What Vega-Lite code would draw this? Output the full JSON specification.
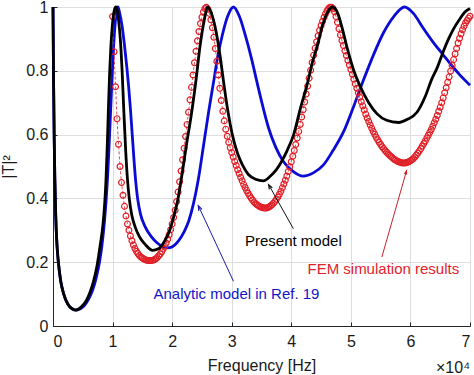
{
  "$schema": "https://vega.github.io/schema/vega-lite/v6.json",
  "autosize": "none",
  "width": 417,
  "height": 319,
  "padding": {"left": 53, "top": 7, "right": 4, "bottom": 49},
  "background": "white",
  "config": {
    "view": {"stroke": null},
    "font": "Liberation Sans",
    "axis": {
      "labelFont": "Liberation Sans", "labelFontSize": 16, "labelColor": "#1a1a1a",
      "titleFont": "Liberation Sans", "titleFontSize": 16, "titleFontWeight": "normal", "titleColor": "#1a1a1a",
      "domainColor": "#262626", "domainWidth": 1, "tickColor": "#262626",
      "gridColor": "#dedede", "gridWidth": 1
    }
  },
  "datasets": {
    "fem": [
      {"f":1.000,"T2":0.97},{"f":1.025,"T2":0.86},{"f":1.050,"T2":0.75},{"f":1.075,"T2":0.65},{"f":1.100,"T2":0.57},
      {"f":1.125,"T2":0.5},{"f":1.150,"T2":0.45},{"f":1.175,"T2":0.41},{"f":1.200,"T2":0.375},{"f":1.225,"T2":0.345},
      {"f":1.250,"T2":0.32},{"f":1.275,"T2":0.3},{"f":1.300,"T2":0.282},{"f":1.325,"T2":0.267},{"f":1.350,"T2":0.254},
      {"f":1.375,"T2":0.243},{"f":1.400,"T2":0.234},{"f":1.425,"T2":0.227},{"f":1.450,"T2":0.221},{"f":1.475,"T2":0.216},
      {"f":1.500,"T2":0.213},{"f":1.525,"T2":0.21},{"f":1.550,"T2":0.208},{"f":1.575,"T2":0.206},{"f":1.600,"T2":0.205},
      {"f":1.625,"T2":0.205},{"f":1.650,"T2":0.205},{"f":1.675,"T2":0.206},{"f":1.700,"T2":0.208},{"f":1.725,"T2":0.211},
      {"f":1.750,"T2":0.215},{"f":1.775,"T2":0.22},{"f":1.800,"T2":0.226},{"f":1.825,"T2":0.233},{"f":1.850,"T2":0.241},
      {"f":1.875,"T2":0.25},{"f":1.900,"T2":0.26},{"f":1.925,"T2":0.272},{"f":1.950,"T2":0.286},{"f":1.975,"T2":0.302},
      {"f":2.000,"T2":0.32},{"f":2.025,"T2":0.34},{"f":2.050,"T2":0.363},{"f":2.075,"T2":0.39},{"f":2.100,"T2":0.42},
      {"f":2.125,"T2":0.452},{"f":2.150,"T2":0.486},{"f":2.175,"T2":0.521},{"f":2.200,"T2":0.557},{"f":2.225,"T2":0.594},
      {"f":2.250,"T2":0.632},{"f":2.275,"T2":0.67},{"f":2.300,"T2":0.709},{"f":2.325,"T2":0.748},{"f":2.350,"T2":0.787},
      {"f":2.375,"T2":0.825},{"f":2.400,"T2":0.861},{"f":2.425,"T2":0.894},{"f":2.450,"T2":0.923},{"f":2.475,"T2":0.948},
      {"f":2.500,"T2":0.968},{"f":2.525,"T2":0.984},{"f":2.550,"T2":0.995},{"f":2.575,"T2":0.999},{"f":2.600,"T2":0.993},
      {"f":2.625,"T2":0.98},{"f":2.650,"T2":0.96},{"f":2.675,"T2":0.935},{"f":2.700,"T2":0.905},{"f":2.725,"T2":0.87},
      {"f":2.750,"T2":0.83},{"f":2.775,"T2":0.787},{"f":2.800,"T2":0.745},{"f":2.825,"T2":0.707},{"f":2.850,"T2":0.673},
      {"f":2.875,"T2":0.643},{"f":2.900,"T2":0.617},{"f":2.925,"T2":0.595},{"f":2.950,"T2":0.576},{"f":2.975,"T2":0.559},
      {"f":3.000,"T2":0.544},{"f":3.025,"T2":0.53},{"f":3.050,"T2":0.516},{"f":3.075,"T2":0.503},{"f":3.100,"T2":0.49},
      {"f":3.125,"T2":0.478},{"f":3.150,"T2":0.466},{"f":3.175,"T2":0.455},{"f":3.200,"T2":0.444},{"f":3.225,"T2":0.434},
      {"f":3.250,"T2":0.425},{"f":3.275,"T2":0.416},{"f":3.300,"T2":0.408},{"f":3.325,"T2":0.401},{"f":3.350,"T2":0.395},
      {"f":3.375,"T2":0.389},{"f":3.400,"T2":0.384},{"f":3.425,"T2":0.38},{"f":3.450,"T2":0.377},{"f":3.475,"T2":0.374},
      {"f":3.500,"T2":0.372},{"f":3.525,"T2":0.371},{"f":3.550,"T2":0.37},{"f":3.575,"T2":0.37},{"f":3.600,"T2":0.371},
      {"f":3.625,"T2":0.373},{"f":3.650,"T2":0.376},{"f":3.675,"T2":0.38},{"f":3.700,"T2":0.385},{"f":3.725,"T2":0.39},
      {"f":3.750,"T2":0.397},{"f":3.775,"T2":0.404},{"f":3.800,"T2":0.413},{"f":3.825,"T2":0.422},{"f":3.850,"T2":0.433},
      {"f":3.875,"T2":0.445},{"f":3.900,"T2":0.457},{"f":3.925,"T2":0.47},{"f":3.950,"T2":0.484},{"f":3.975,"T2":0.499},
      {"f":4.000,"T2":0.515},{"f":4.025,"T2":0.532},{"f":4.050,"T2":0.55},{"f":4.075,"T2":0.569},{"f":4.100,"T2":0.589},
      {"f":4.125,"T2":0.61},{"f":4.150,"T2":0.632},{"f":4.175,"T2":0.655},{"f":4.200,"T2":0.678},{"f":4.225,"T2":0.702},
      {"f":4.250,"T2":0.727},{"f":4.275,"T2":0.752},{"f":4.300,"T2":0.777},{"f":4.325,"T2":0.802},{"f":4.350,"T2":0.826},
      {"f":4.375,"T2":0.849},{"f":4.400,"T2":0.871},{"f":4.425,"T2":0.891},{"f":4.450,"T2":0.91},{"f":4.475,"T2":0.927},
      {"f":4.500,"T2":0.942},{"f":4.525,"T2":0.955},{"f":4.550,"T2":0.968},{"f":4.575,"T2":0.979},{"f":4.600,"T2":0.988},
      {"f":4.625,"T2":0.995},{"f":4.650,"T2":0.999},{"f":4.675,"T2":0.999},{"f":4.700,"T2":0.995},{"f":4.725,"T2":0.985},
      {"f":4.750,"T2":0.97},{"f":4.775,"T2":0.952},{"f":4.800,"T2":0.932},{"f":4.825,"T2":0.912},{"f":4.850,"T2":0.895},
      {"f":4.875,"T2":0.879},{"f":4.900,"T2":0.863},{"f":4.925,"T2":0.848},{"f":4.950,"T2":0.833},{"f":4.975,"T2":0.818},
      {"f":5.000,"T2":0.804},{"f":5.025,"T2":0.789},{"f":5.050,"T2":0.774},{"f":5.075,"T2":0.759},{"f":5.100,"T2":0.745},
      {"f":5.125,"T2":0.731},{"f":5.150,"T2":0.717},{"f":5.175,"T2":0.703},{"f":5.200,"T2":0.69},{"f":5.225,"T2":0.677},
      {"f":5.250,"T2":0.664},{"f":5.275,"T2":0.652},{"f":5.300,"T2":0.641},{"f":5.325,"T2":0.63},{"f":5.350,"T2":0.62},
      {"f":5.375,"T2":0.61},{"f":5.400,"T2":0.601},{"f":5.425,"T2":0.592},{"f":5.450,"T2":0.584},{"f":5.475,"T2":0.576},
      {"f":5.500,"T2":0.569},{"f":5.525,"T2":0.562},{"f":5.550,"T2":0.556},{"f":5.575,"T2":0.55},{"f":5.600,"T2":0.545},
      {"f":5.625,"T2":0.54},{"f":5.650,"T2":0.535},{"f":5.675,"T2":0.531},{"f":5.700,"T2":0.527},{"f":5.725,"T2":0.523},
      {"f":5.750,"T2":0.52},{"f":5.775,"T2":0.517},{"f":5.800,"T2":0.515},{"f":5.825,"T2":0.513},{"f":5.850,"T2":0.512},
      {"f":5.875,"T2":0.511},{"f":5.900,"T2":0.511},{"f":5.925,"T2":0.512},{"f":5.950,"T2":0.513},{"f":5.975,"T2":0.515},
      {"f":6.000,"T2":0.518},{"f":6.025,"T2":0.521},{"f":6.050,"T2":0.525},{"f":6.075,"T2":0.53},{"f":6.100,"T2":0.536},
      {"f":6.125,"T2":0.542},{"f":6.150,"T2":0.549},{"f":6.175,"T2":0.556},{"f":6.200,"T2":0.564},{"f":6.225,"T2":0.572},
      {"f":6.250,"T2":0.58},{"f":6.275,"T2":0.589},{"f":6.300,"T2":0.598},{"f":6.325,"T2":0.607},{"f":6.350,"T2":0.616},
      {"f":6.375,"T2":0.626},{"f":6.400,"T2":0.637},{"f":6.425,"T2":0.648},{"f":6.450,"T2":0.66},{"f":6.475,"T2":0.673},
      {"f":6.500,"T2":0.686},{"f":6.525,"T2":0.7},{"f":6.550,"T2":0.715},{"f":6.575,"T2":0.731},{"f":6.600,"T2":0.747},
      {"f":6.625,"T2":0.764},{"f":6.650,"T2":0.781},{"f":6.675,"T2":0.799},{"f":6.700,"T2":0.817},{"f":6.725,"T2":0.835},
      {"f":6.750,"T2":0.853},{"f":6.775,"T2":0.87},{"f":6.800,"T2":0.887},{"f":6.825,"T2":0.902},{"f":6.850,"T2":0.916},
      {"f":6.875,"T2":0.929},{"f":6.900,"T2":0.94},{"f":6.925,"T2":0.95},{"f":6.950,"T2":0.958},{"f":6.975,"T2":0.965},
      {"f":7.000,"T2":0.971}
    ],
    "present": [
      {"f":0,"T2":1},{"f":0.005,"T2":0.88},{"f":0.01,"T2":0.76},{"f":0.02,"T2":0.59},{"f":0.03,"T2":0.47},
      {"f":0.045,"T2":0.35},{"f":0.065,"T2":0.26},{"f":0.09,"T2":0.2},{"f":0.13,"T2":0.14},{"f":0.18,"T2":0.1},
      {"f":0.25,"T2":0.068},{"f":0.32,"T2":0.054},{"f":0.38,"T2":0.05},{"f":0.44,"T2":0.054},{"f":0.5,"T2":0.065},
      {"f":0.56,"T2":0.08},{"f":0.62,"T2":0.105},{"f":0.68,"T2":0.14},{"f":0.74,"T2":0.19},{"f":0.79,"T2":0.25},
      {"f":0.84,"T2":0.32},{"f":0.87,"T2":0.39},{"f":0.89,"T2":0.46},{"f":0.91,"T2":0.56},{"f":0.93,"T2":0.68},
      {"f":0.95,"T2":0.79},{"f":0.97,"T2":0.87},{"f":1.0,"T2":0.95},{"f":1.03,"T2":0.99},{"f":1.055,"T2":1.0},
      {"f":1.08,"T2":0.99},{"f":1.1,"T2":0.96},{"f":1.13,"T2":0.9},{"f":1.16,"T2":0.8},{"f":1.19,"T2":0.67},
      {"f":1.22,"T2":0.55},{"f":1.25,"T2":0.46},{"f":1.28,"T2":0.4},{"f":1.32,"T2":0.35},{"f":1.38,"T2":0.31},
      {"f":1.45,"T2":0.28},{"f":1.55,"T2":0.255},{"f":1.67,"T2":0.237},{"f":1.77,"T2":0.242},{"f":1.87,"T2":0.265},
      {"f":1.96,"T2":0.3},{"f":2.03,"T2":0.345},{"f":2.1,"T2":0.4},{"f":2.17,"T2":0.48},{"f":2.25,"T2":0.58},
      {"f":2.32,"T2":0.66},{"f":2.4,"T2":0.77},{"f":2.47,"T2":0.88},{"f":2.53,"T2":0.95},{"f":2.6,"T2":1.0},
      {"f":2.65,"T2":0.985},{"f":2.7,"T2":0.955},{"f":2.76,"T2":0.9},{"f":2.81,"T2":0.84},{"f":2.86,"T2":0.77},
      {"f":2.93,"T2":0.68},{"f":3.01,"T2":0.6},{"f":3.1,"T2":0.54},{"f":3.18,"T2":0.505},{"f":3.28,"T2":0.475},
      {"f":3.4,"T2":0.46},{"f":3.53,"T2":0.455},{"f":3.65,"T2":0.47},{"f":3.75,"T2":0.49},{"f":3.82,"T2":0.51},
      {"f":3.93,"T2":0.55},{"f":4.04,"T2":0.6},{"f":4.15,"T2":0.68},{"f":4.27,"T2":0.76},{"f":4.36,"T2":0.83},
      {"f":4.44,"T2":0.88},{"f":4.52,"T2":0.94},{"f":4.6,"T2":0.98},{"f":4.69,"T2":1.0},{"f":4.78,"T2":0.98},
      {"f":4.86,"T2":0.93},{"f":4.94,"T2":0.87},{"f":5.05,"T2":0.8},{"f":5.16,"T2":0.75},{"f":5.3,"T2":0.7},
      {"f":5.44,"T2":0.665},{"f":5.6,"T2":0.645},{"f":5.8,"T2":0.638},{"f":5.95,"T2":0.648},{"f":6.11,"T2":0.67},
      {"f":6.25,"T2":0.72},{"f":6.35,"T2":0.77},{"f":6.45,"T2":0.81},{"f":6.55,"T2":0.86},{"f":6.64,"T2":0.9},
      {"f":6.72,"T2":0.93},{"f":6.82,"T2":0.96},{"f":6.92,"T2":0.985},{"f":7.0,"T2":0.995}
    ],
    "analytic": [
      {"f":0,"T2":1},{"f":0.005,"T2":0.88},{"f":0.01,"T2":0.76},{"f":0.02,"T2":0.59},{"f":0.03,"T2":0.47},
      {"f":0.045,"T2":0.35},{"f":0.065,"T2":0.26},{"f":0.09,"T2":0.2},{"f":0.13,"T2":0.14},{"f":0.18,"T2":0.1},
      {"f":0.25,"T2":0.068},{"f":0.32,"T2":0.054},{"f":0.39,"T2":0.05},{"f":0.46,"T2":0.054},{"f":0.53,"T2":0.065},
      {"f":0.6,"T2":0.085},{"f":0.67,"T2":0.115},{"f":0.73,"T2":0.155},{"f":0.78,"T2":0.2},{"f":0.82,"T2":0.25},
      {"f":0.86,"T2":0.32},{"f":0.89,"T2":0.39},{"f":0.92,"T2":0.48},{"f":0.95,"T2":0.6},{"f":0.98,"T2":0.73},
      {"f":1.01,"T2":0.85},{"f":1.04,"T2":0.94},{"f":1.065,"T2":0.985},{"f":1.09,"T2":1.0},{"f":1.12,"T2":0.98},
      {"f":1.16,"T2":0.94},{"f":1.2,"T2":0.88},{"f":1.24,"T2":0.81},{"f":1.27,"T2":0.75},{"f":1.3,"T2":0.68},
      {"f":1.33,"T2":0.6},{"f":1.36,"T2":0.52},{"f":1.39,"T2":0.45},{"f":1.42,"T2":0.4},{"f":1.47,"T2":0.35},
      {"f":1.55,"T2":0.31},{"f":1.65,"T2":0.28},{"f":1.75,"T2":0.26},{"f":1.85,"T2":0.248},{"f":1.92,"T2":0.245},
      {"f":2.0,"T2":0.248},{"f":2.1,"T2":0.265},{"f":2.2,"T2":0.295},{"f":2.28,"T2":0.33},{"f":2.36,"T2":0.385},
      {"f":2.44,"T2":0.46},{"f":2.53,"T2":0.57},{"f":2.62,"T2":0.68},{"f":2.7,"T2":0.77},{"f":2.77,"T2":0.85},
      {"f":2.84,"T2":0.91},{"f":2.93,"T2":0.97},{"f":3.03,"T2":1.0},{"f":3.13,"T2":0.97},{"f":3.23,"T2":0.91},
      {"f":3.33,"T2":0.84},{"f":3.43,"T2":0.76},{"f":3.52,"T2":0.69},{"f":3.62,"T2":0.62},{"f":3.74,"T2":0.56},
      {"f":3.87,"T2":0.515},{"f":4.03,"T2":0.485},{"f":4.2,"T2":0.47},{"f":4.37,"T2":0.48},{"f":4.54,"T2":0.505},
      {"f":4.7,"T2":0.55},{"f":4.88,"T2":0.61},{"f":5.05,"T2":0.69},{"f":5.21,"T2":0.77},{"f":5.38,"T2":0.85},
      {"f":5.55,"T2":0.92},{"f":5.72,"T2":0.97},{"f":5.9,"T2":1.0},{"f":6.05,"T2":0.98},{"f":6.21,"T2":0.935},
      {"f":6.38,"T2":0.89},{"f":6.55,"T2":0.85},{"f":6.7,"T2":0.815},{"f":6.84,"T2":0.785},{"f":7.0,"T2":0.755}
    ],
    "notes": [
      {"label": "Present model", "series": "present", "tx": 4.035, "ty": 0.265, "ax": 4.035, "ay": 0.305, "hx": 3.62, "hy": 0.443},
      {"label": "FEM simulation results", "series": "fem", "tx": 5.545, "ty": 0.18, "ax": 5.52, "ay": 0.216, "hx": 5.94, "hy": 0.49},
      {"label": "Analytic model in Ref. 19", "series": "analytic", "tx": 3.08, "ty": 0.1, "ax": 3.03, "ay": 0.14, "hx": 2.44, "hy": 0.377}
    ]
  },
  "layer": [
    {"data": {"name": "analytic"}, "mark": {"type": "line", "color": "#0b0bd6", "strokeWidth": 2.8, "interpolate": "monotone"},
     "encoding": {
       "x": {"field": "f", "type": "quantitative",
         "scale": {"domain": [0, 7], "nice": false},
         "axis": {"title": "Frequency [Hz]", "values": [0,1,2,3,4,5,6,7], "format": "d", "grid": true,
                  "tickSize": -4, "labelPadding": 11, "titlePadding": 8}},
       "y": {"field": "T2", "type": "quantitative",
         "scale": {"domain": [0, 1], "nice": false},
         "axis": {"title": "|T|²", "values": [0,0.2,0.4,0.6,0.8,1], "format": "~g", "grid": true,
                  "tickSize": -4, "labelPadding": 9, "titlePadding": 9}}
     }},
    {"data": {"name": "fem"}, "mark": {"type": "line", "color": "#e01e26", "strokeWidth": 0.8, "strokeDash": [3, 2]},
     "encoding": {"x": {"field": "f", "type": "quantitative"}, "y": {"field": "T2", "type": "quantitative"}}},
    {"data": {"name": "fem"}, "mark": {"type": "point", "shape": "circle", "filled": false, "color": "#e01e26", "size": 34, "strokeWidth": 1.2, "opacity": 1},
     "encoding": {"x": {"field": "f", "type": "quantitative"}, "y": {"field": "T2", "type": "quantitative"}}},
    {"data": {"name": "present"}, "mark": {"type": "line", "color": "#000000", "strokeWidth": 2.8, "interpolate": "monotone"},
     "encoding": {"x": {"field": "f", "type": "quantitative"}, "y": {"field": "T2", "type": "quantitative"}}},
    {"data": {"name": "notes"},
     "mark": {"type": "rule", "strokeWidth": 1},
     "encoding": {
       "x": {"field": "ax", "type": "quantitative"}, "y": {"field": "ay", "type": "quantitative"},
       "x2": {"field": "hx"}, "y2": {"field": "hy"},
       "color": {"field": "series", "type": "nominal", "legend": null,
         "scale": {"domain": ["present", "fem", "analytic"], "range": ["#111111", "#c8202c", "#1a1ab0"]}}
     }},
    {"data": {"name": "notes"}, "transform": [{"filter": "datum.series == 'present'"}],
     "mark": {"type": "point", "shape": "M-0.55,1.5L0,0L0.55,1.5", "filled": false, "color": "#111111", "strokeWidth": 1.2, "size": 36, "angle": 331, "opacity": 1},
     "encoding": {"x": {"field": "hx", "type": "quantitative"}, "y": {"field": "hy", "type": "quantitative"}}},
    {"data": {"name": "notes"}, "transform": [{"filter": "datum.series == 'fem'"}],
     "mark": {"type": "point", "shape": "M-0.6,1.6L0,0L0.6,1.6Z", "filled": true, "color": "#d0202c", "size": 36, "angle": 16, "opacity": 1},
     "encoding": {"x": {"field": "hx", "type": "quantitative"}, "y": {"field": "hy", "type": "quantitative"}}},
    {"data": {"name": "notes"}, "transform": [{"filter": "datum.series == 'analytic'"}],
     "mark": {"type": "point", "shape": "M-0.55,1.5L0,0L0.55,1.5", "filled": false, "color": "#1a1ab0", "strokeWidth": 1.2, "size": 42, "angle": 335, "opacity": 1},
     "encoding": {"x": {"field": "hx", "type": "quantitative"}, "y": {"field": "hy", "type": "quantitative"}}},
    {"data": {"name": "notes"},
     "mark": {"type": "text", "fontSize": 15, "font": "Liberation Sans", "align": "center", "baseline": "middle"},
     "encoding": {
       "x": {"field": "tx", "type": "quantitative"}, "y": {"field": "ty", "type": "quantitative"},
       "text": {"field": "label"},
       "color": {"field": "series", "type": "nominal", "legend": null,
         "scale": {"domain": ["present", "fem", "analytic"], "range": ["#000000", "#e4222a", "#1414c8"]}}
     }},
    {"data": {"values": [{"note": "×10⁴", "fx": 7, "fy": -0.148}]},
     "mark": {"type": "text", "color": "#1a1a1a", "fontSize": 16, "font": "Liberation Sans", "align": "right", "baseline": "alphabetic"},
     "encoding": {"x": {"field": "fx", "type": "quantitative"}, "y": {"field": "fy", "type": "quantitative"}, "text": {"field": "note"}}}
  ],
  "resolve": {"scale": {"color": "independent"}}
}
